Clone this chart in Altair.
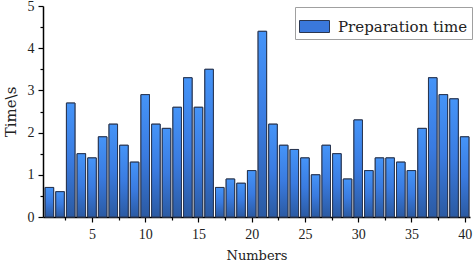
import altair as alt
import pandas as pd

numbers = list(range(1, 41))
times = [0.7, 0.6, 2.7, 1.5, 1.4, 1.9, 2.2, 1.7, 1.3, 2.9,
         2.2, 2.1, 2.6, 3.3, 2.6, 3.5, 0.7, 0.9, 0.8, 1.1,
         4.4, 2.2, 1.7, 1.6, 1.4, 1.0, 1.7, 1.5, 0.9, 2.3,
         1.1, 1.4, 1.4, 1.3, 1.1, 2.1, 3.3, 2.9, 2.8, 1.9]
series_name = "Preparation time"
x_major = [5, 10, 15, 20, 25, 30, 35, 40]
x_minor = [2.5, 7.5, 12.5, 17.5, 22.5, 27.5, 32.5, 37.5]
y_major = [0, 1, 2, 3, 4, 5]
y_minor = [0.5, 1.5, 2.5, 3.5, 4.5]

df = pd.DataFrame({"n": numbers, "t": times, "s": [series_name] * len(numbers)})

serif = "Liberation Serif"
textfont = "DejaVu Serif"

base = alt.Chart(df).transform_calculate(
    x0="datum.n - 0.4", x1="datum.n + 0.4"
)

xscale = alt.Scale(domain=[0.4, 40.5], nice=False, zero=False)
yscale = alt.Scale(domain=[0, 5], nice=False)

solid = base.mark_bar(stroke="#2a3650", strokeWidth=1).encode(
    x=alt.X("x0:Q", scale=xscale,
            axis=alt.Axis(values=x_major, title="Numbers", orient="bottom",
                          tickSize=5, labelFont=serif, labelFontSize=14,
                          labelPadding=5, titleFont=textfont, titleFontSize=13,
                          titleFontWeight="normal", titlePadding=8)),
    x2="x1:Q",
    y=alt.Y("t:Q", scale=yscale,
            axis=alt.Axis(values=y_major, title="Time\\s", orient="left",
                          tickSize=5, labelFont=serif, labelFontSize=14,
                          labelPadding=4, titleFont=textfont, titleFontSize=15,
                          titleFontWeight="normal", titlePadding=9)),
    y2=alt.datum(0),
    color=alt.Color("s:N", scale=alt.Scale(range=["#3a78dc"]),
                    legend=alt.Legend(title=None, orient="none", legendX=252, legendY=1,
                                      symbolType="M-1,-0.4H1V0.4H-1Z", symbolSize=900,
                                      symbolStrokeColor="#2a3650", symbolStrokeWidth=1,
                                      labelFont=textfont, labelFontSize=15, labelColor="#222",
                                      labelOffset=8, strokeColor="#a0a0a0", fillColor="white",
                                      padding=4, cornerRadius=0)),
)

grad = alt.LinearGradient(
    gradient="linear",
    stops=[alt.GradientStop(color="#4594f8", offset=0),
           alt.GradientStop(color="#3a7be0", offset=0.5),
           alt.GradientStop(color="#2b5aa2", offset=1)],
    x1=0, x2=0, y1=0, y2=1,
)

gradbars = base.mark_bar(fill=grad, stroke="#2a3650", strokeWidth=1).encode(
    x=alt.X("x0:Q", scale=xscale,
            axis=alt.Axis(values=x_minor, orient="bottom", labels=False, domain=False,
                          tickSize=3, title=None)),
    x2="x1:Q",
    y=alt.Y("t:Q", scale=yscale,
            axis=alt.Axis(values=y_minor, orient="left", labels=False, domain=False,
                          tickSize=3, title=None)),
    y2=alt.datum(0),
)

chart = alt.layer(solid, gradbars).resolve_axis(
    x="independent", y="independent"
).properties(
    width=427, height=211,
    autosize=alt.AutoSizeParams(type="none"),
    padding={"left": 43, "top": 6, "right": 4, "bottom": 48},
    background="white",
).configure_view(stroke=None).configure_axis(
    grid=False, domainColor="black", domainWidth=1.5, tickColor="black",
    tickWidth=1.2, labelColor="#222", titleColor="#222",
)

chart.save("out.html", embed_options={"renderer": "svg", "actions": False})
